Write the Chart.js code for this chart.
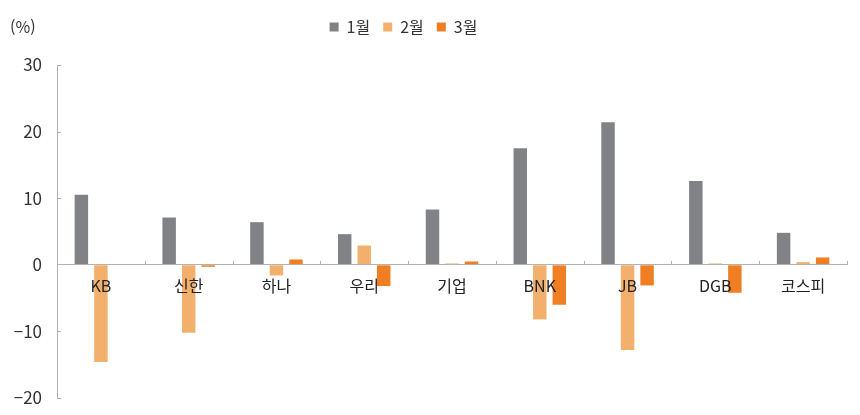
<!DOCTYPE html>
<html lang="ko">
<head>
<meta charset="utf-8">
<script src="https://cdn.jsdelivr.net/npm/chart.js@4.4.1/dist/chart.umd.min.js"></script>
<style>
  html, body { margin: 0; padding: 0; background: #fff; }
  #wrap { width: 860px; height: 415px; position: relative; }
</style>
</head>
<body>
<div id="wrap"><canvas id="bankChart"></canvas></div>
<script>
// 데이터
const categories = ['KB', '신한', '하나', '우리', '기업', 'BNK', 'JB', 'DGB', '코스피'];
const seriesNames = ['1월', '2월', '3월'];
const jan = [10.5, 7.1, 6.4, 4.6, 8.3, 17.5, 21.4, 12.6, 4.8];
const feb = [-14.6, -10.2, -1.6, 2.9, 0.2, -8.2, -12.8, 0.2, 0.4];
const mar = [0, -0.3, 0.8, -3.2, 0.5, -6.0, -3.1, -4.2, 1.1];
const yTicks = [-20, -10, 0, 10, 20, 30];

const colors = ['#808285', '#F2B06C', '#EF7F22'];
const axisColor = '#b3b3b3';
const fontFamily = '"Noto Sans CJK KR", "Noto Sans", sans-serif';

// 축 안쪽으로 짧은 눈금 + (%) 단위 표시
const innerTicks = {
    id: 'innerTicks',
    afterDraw(chart) {
        const { ctx, scales: { x, y } } = chart;
        const zero = y.getPixelForValue(0);
        ctx.save();
        ctx.strokeStyle = axisColor;
        ctx.lineWidth = 1;
        ctx.beginPath();
        y.ticks.forEach(t => {
            if (t.value === 0) return;
            const py = Math.round(y.getPixelForValue(t.value)) + 0.5;
            ctx.moveTo(y.right, py);
            ctx.lineTo(y.right + 4, py);
        });
        const step = x.width / categories.length;
        for (let i = 1; i <= categories.length; i++) {
            const px = Math.round(x.left + i * step) + 0.5;
            ctx.moveTo(px, zero);
            ctx.lineTo(px, zero - 4);
        }
        ctx.stroke();

        const hb = chart.legend.legendHitBoxes[0];
        ctx.fillStyle = '#333';
        ctx.font = '16px ' + fontFamily;
        ctx.textBaseline = 'middle';
        ctx.textAlign = 'left';
        ctx.fillText('(%)', 10, hb.top + hb.height / 2);
        ctx.restore();
    }
};

// 범례 아래 여백
const legendMargin = {
    id: 'legendMargin',
    beforeInit(chart) {
        const fit = chart.legend.fit;
        chart.legend.fit = function () {
            fit.bind(chart.legend)();
            this.height += 20;
        };
    }
};

const ctx = document.getElementById('bankChart');
new Chart(ctx, {
    type: 'bar',
    data: {
        labels: categories,
        datasets: [jan, feb, mar].map((d, i) => ({
            label: seriesNames[i],
            data: d,
            backgroundColor: colors[i],
            borderWidth: 0,
            categoryPercentage: 0.667,
            barPercentage: 0.69
        }))
    },
    options: {
        responsive: true,
        maintainAspectRatio: false,
        animation: false,
        layout: {
            padding: { left: -40, right: 13, top: 6, bottom: 17 }
        },
        scales: {
            x: {
                position: { y: 0 },
                grid: { drawOnChartArea: false, drawTicks: false },
                border: { color: axisColor, width: 1, z: 1 },
                ticks: {
                    z: 1,
                    padding: 12,
                    color: '#222',
                    font: { family: fontFamily, size: 16 }
                }
            },
            y: {
                min: -20,
                max: 30,
                afterBuildTicks: scale => {
                    scale.ticks = yTicks.map(v => ({ value: v }));
                },
                afterFit: scale => {
                    scale.width = 97;
                    scale.paddingTop = 0;
                    scale.paddingBottom = 0;
                },
                grid: { drawOnChartArea: false, drawTicks: false },
                border: { color: axisColor, width: 1 },
                ticks: {
                    padding: 15,
                    color: '#333',
                    font: { family: fontFamily, size: 17 },
                    callback: v => String(v).replace('-', '\u2212')
                }
            }
        },
        plugins: {
            legend: {
                position: 'top',
                labels: {
                    boxWidth: 9,
                    boxHeight: 9,
                    padding: 13,
                    color: '#333',
                    font: { family: fontFamily, size: 16 }
                }
            },
            tooltip: { enabled: false }
        }
    },
    plugins: [innerTicks, legendMargin]
});
</script>
</body>
</html>
